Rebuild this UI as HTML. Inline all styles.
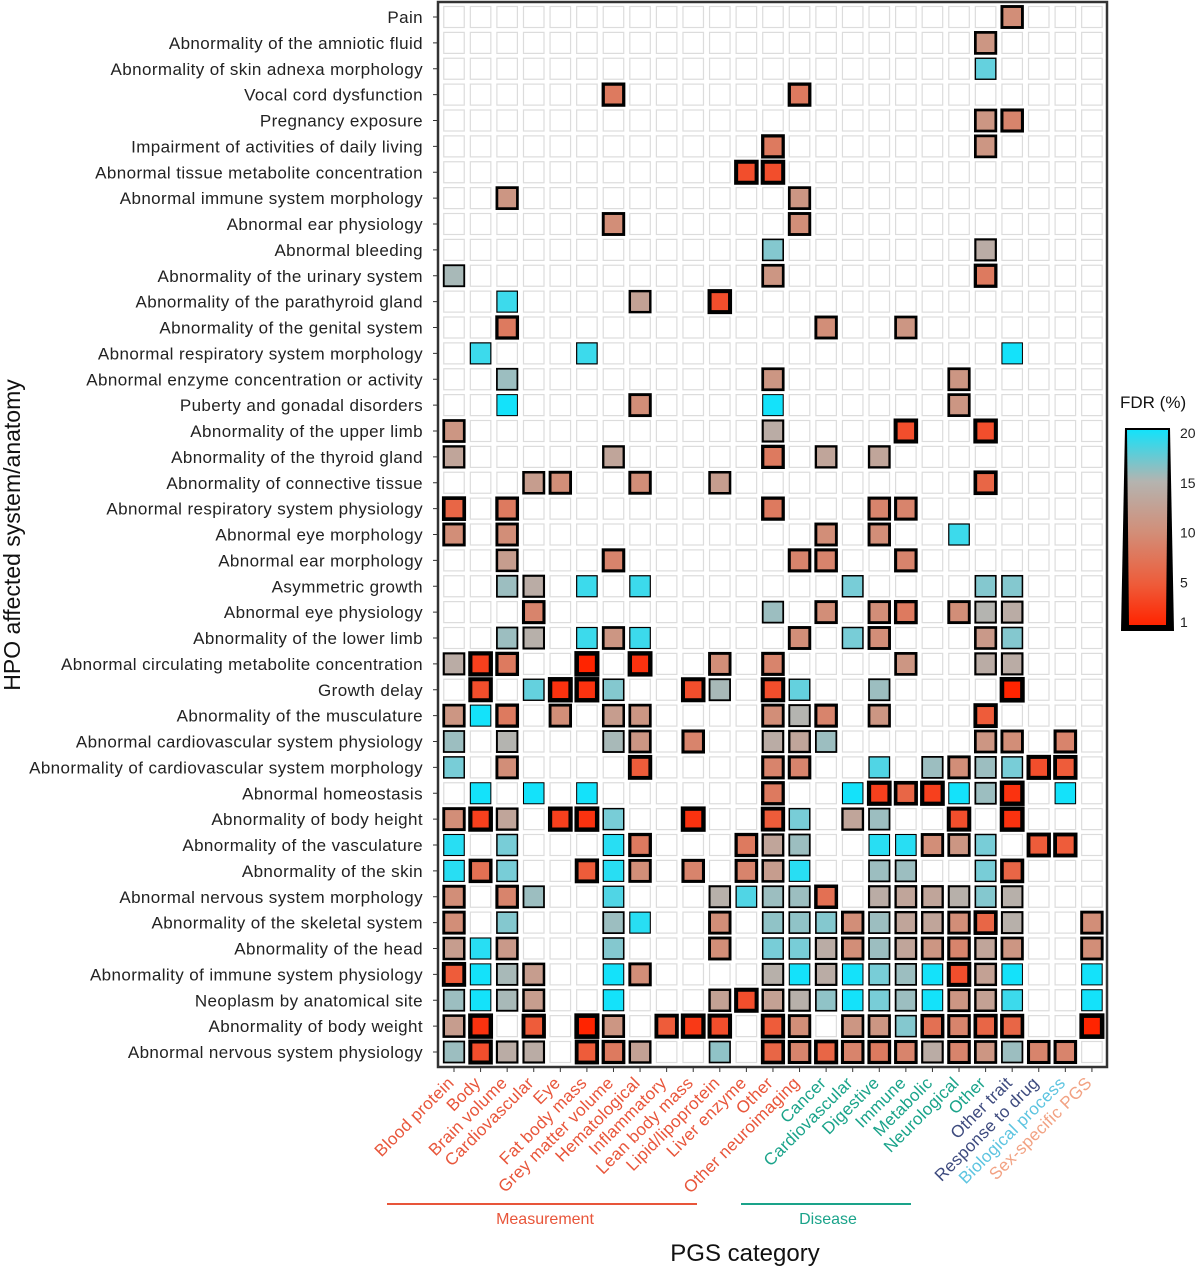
<!DOCTYPE html>
<html><head><meta charset="utf-8"><style>
html,body{margin:0;padding:0;background:#fff;}
svg{display:block;font-family:"Liberation Sans",Arial,sans-serif;}
</style></head><body>
<svg id="chart" width="1200" height="1275" viewBox="0 0 1200 1275" xmlns="http://www.w3.org/2000/svg">
<defs>
<linearGradient id="fdrGrad" x1="0" y1="0" x2="0" y2="1">
<stop offset="0" stop-color="#14e2fa"/>
<stop offset="0.263" stop-color="#b4b4b0"/>
<stop offset="0.526" stop-color="#d28e78"/>
<stop offset="0.789" stop-color="#ee5c3a"/>
<stop offset="1" stop-color="#ff2400"/>
</linearGradient>
</defs>
<g id="grid"></g>
<rect x="438" y="2" width="669" height="1065" fill="none" stroke="#333" stroke-width="2.5"/>
<g id="ylabels"></g>
<g id="xlabels"></g>
<text transform="translate(20,535) rotate(-90)" text-anchor="middle" font-size="23" fill="#111">HPO affected system/anatomy</text>
<text x="745" y="1261" text-anchor="middle" font-size="24" fill="#111">PGS category</text>
<line x1="387" y1="1204" x2="697" y2="1204" stroke="#e8553a" stroke-width="2"/>
<text x="545" y="1224" text-anchor="middle" font-size="16" fill="#e8553a">Measurement</text>
<line x1="741" y1="1204" x2="911" y2="1204" stroke="#1aa38a" stroke-width="2"/>
<text x="828" y="1224" text-anchor="middle" font-size="16" fill="#1aa38a">Disease</text>
<g>
<text x="1120" y="408" font-size="17" fill="#111">FDR (%)</text>
<polygon points="1125,428 1170,428 1174,631 1121,631" fill="#000"/>
<polygon points="1127,430 1168,430 1166,625 1129,625" fill="url(#fdrGrad)"/>
<g id="legendTicks"></g>
</g>
</svg>
<script>
const NS="http://www.w3.org/2000/svg";
const rowLabels=["Pain","Abnormality of the amniotic fluid","Abnormality of skin adnexa morphology","Vocal cord dysfunction","Pregnancy exposure","Impairment of activities of daily living","Abnormal tissue metabolite concentration","Abnormal immune system morphology","Abnormal ear physiology","Abnormal bleeding","Abnormality of the urinary system","Abnormality of the parathyroid gland","Abnormality of the genital system","Abnormal respiratory system morphology","Abnormal enzyme concentration or activity","Puberty and gonadal disorders","Abnormality of the upper limb","Abnormality of the thyroid gland","Abnormality of connective tissue","Abnormal respiratory system physiology","Abnormal eye morphology","Abnormal ear morphology","Asymmetric growth","Abnormal eye physiology","Abnormality of the lower limb","Abnormal circulating metabolite concentration","Growth delay","Abnormality of the musculature","Abnormal cardiovascular system physiology","Abnormality of cardiovascular system morphology","Abnormal homeostasis","Abnormality of body height","Abnormality of the vasculature","Abnormality of the skin","Abnormal nervous system morphology","Abnormality of the skeletal system","Abnormality of the head","Abnormality of immune system physiology","Neoplasm by anatomical site","Abnormality of body weight","Abnormal nervous system physiology"];
const colLabels=["Blood protein","Body","Brain volume","Cardiovascular","Eye","Fat body mass","Grey matter volume","Hematological","Inflammatory","Lean body mass","Lipid/lipoprotein","Liver enzyme","Other","Other neuroimaging","Cancer","Cardiovascular","Digestive","Immune","Metabolic","Neurological","Other","Other trait","Response to drug","Biological process","Sex-specific PGS"];
const colGroups=["m","m","m","m","m","m","m","m","m","m","m","m","m","m","d","d","d","d","d","d","d","t","t","b","s"];
const legendTicks=[20,15,10,5,1];
// [row, col, FDR %]
const cells=[
[0,21,10],[1,20,11],[2,20,18],[3,6,8],[3,13,8],[4,20,11],[4,21,9],[5,12,8],[5,20,11],
[6,11,4],[6,12,4],[7,2,11],[7,13,11],[8,6,10],[8,13,10],[9,12,17],[9,20,14],
[10,0,15.5],[10,12,11],[10,20,8],[11,2,19],[11,7,12.5],[11,10,4],[12,2,8],[12,14,10],[12,17,11],
[13,1,19],[13,5,19],[13,21,20],
[14,2,16],[14,12,11],[14,19,11],[15,2,20],[15,7,10],[15,12,20],[15,19,11],
[16,0,11],[16,12,14],[16,17,4],[16,20,4],
[17,0,13],[17,6,13],[17,12,8],[17,14,13],[17,16,13],
[18,3,12],[18,4,10],[18,7,10],[18,10,12],[18,20,6],
[19,0,6],[19,2,8],[19,12,8],[19,16,9],[19,17,9],
[20,0,10],[20,2,10],[20,14,10],[20,16,10],[20,19,19],
[21,2,12],[21,6,9],[21,13,9],[21,14,9],[21,17,9],
[22,2,16],[22,3,14],[22,5,19],[22,7,19],[22,15,17.5],[22,20,17],[22,21,17],
[23,3,9],[23,12,16],[23,14,10],[23,16,10],[23,17,8],[23,19,10],[23,20,15],[23,21,14],
[24,2,16],[24,3,14.5],[24,5,19],[24,6,11],[24,7,19],[24,13,10],[24,15,17.5],[24,16,10],[24,20,11.5],[24,21,17],
[25,0,14],[25,1,3],[25,2,8],[25,5,1],[25,7,2],[25,10,10],[25,12,9],[25,17,11],[25,20,14],[25,21,14],
[26,1,4],[26,3,18],[26,4,2],[26,5,2],[26,6,17],[26,9,4],[26,10,15.5],[26,12,4],[26,13,18],[26,16,16],[26,21,1],
[27,0,11],[27,1,20],[27,2,8],[27,4,10],[27,6,12],[27,7,11],[27,12,10],[27,13,15],[27,14,9],[27,16,11],[27,20,5],
[28,0,16],[28,2,15],[28,6,15.5],[28,7,11],[28,9,9],[28,12,14],[28,13,13],[28,14,16],[28,20,11],[28,21,10],[28,23,9],
[29,0,17.5],[29,2,10],[29,7,5],[29,12,9],[29,13,9],[29,16,18.5],[29,18,16],[29,19,10],[29,20,16],[29,21,17.5],[29,22,4],[29,23,5],
[30,1,20],[30,3,20],[30,5,20],[30,12,8],[30,15,20],[30,16,3],[30,17,6],[30,18,3],[30,19,20],[30,20,16],[30,21,2],[30,23,20],
[31,0,10],[31,1,3],[31,2,13],[31,4,3],[31,5,2],[31,6,17.5],[31,9,2],[31,12,5],[31,13,17.5],[31,15,13],[31,16,16],[31,19,4],[31,21,2],
[32,0,19.5],[32,2,17.5],[32,6,19.5],[32,7,8],[32,11,8],[32,12,13],[32,13,16],[32,16,19.5],[32,17,19.5],[32,18,10],[32,19,11],[32,20,17.5],[32,22,5],[32,23,5],
[33,0,19.5],[33,1,7],[33,2,17.5],[33,5,5],[33,6,19.5],[33,7,10],[33,9,9],[33,11,9],[33,12,12],[33,13,19.5],[33,16,16],[33,17,16],[33,20,17.5],[33,21,6],
[34,0,10],[34,2,9],[34,3,16],[34,6,18.5],[34,10,14.5],[34,11,18.5],[34,12,16],[34,13,16],[34,14,7],[34,16,14],[34,17,13],[34,18,13],[34,19,14.5],[34,20,17],[34,21,14.5],
[35,0,10],[35,2,17],[35,6,16],[35,7,19.5],[35,10,10],[35,12,16.5],[35,13,16.5],[35,14,17],[35,15,10],[35,16,16],[35,17,13],[35,18,13],[35,19,10],[35,20,6],[35,21,14.5],[35,24,10],
[36,0,12],[36,1,19.5],[36,2,11.5],[36,6,17],[36,10,10],[36,12,17.5],[36,13,17.5],[36,14,14],[36,15,10],[36,16,16],[36,17,13],[36,18,11],[36,19,9],[36,20,13],[36,21,11],[36,24,10],
[37,0,5],[37,1,20],[37,2,15.5],[37,3,12],[37,6,20],[37,7,10],[37,12,14.5],[37,13,20],[37,14,14],[37,15,20],[37,16,17.5],[37,17,16],[37,18,20],[37,19,4],[37,20,12.5],[37,21,20],[37,24,20],
[38,0,16],[38,1,20],[38,2,15.5],[38,3,12],[38,6,20],[38,10,12.5],[38,11,4],[38,12,12.5],[38,13,14.5],[38,14,16.5],[38,15,20],[38,16,17.5],[38,17,16],[38,18,20],[38,19,11],[38,20,12.5],[38,21,19],[38,24,20],
[39,0,12],[39,1,2],[39,3,5],[39,5,1],[39,6,11],[39,8,5],[39,9,2.5],[39,10,4],[39,12,5],[39,13,10],[39,15,11],[39,16,11],[39,17,17],[39,18,7],[39,19,9],[39,20,6],[39,21,6],[39,24,1],
[40,0,16],[40,1,4],[40,2,14],[40,3,14],[40,5,5],[40,6,8],[40,7,12.5],[40,10,16.5],[40,12,6],[40,13,9],[40,14,6],[40,15,9],[40,16,8],[40,17,9],[40,18,14],[40,19,9],[40,20,11],[40,21,16],[40,22,9],[40,23,9]
];
const xScale=c=>454+c*26.58;
const yScale=r=>17+r*25.875;
const legendY=v=>433+(20-v)*9.95;
const stops=[[1,[255,36,0]],[5,[238,92,58]],[10,[210,142,120]],[15,[180,180,176]],[17.5,[120,205,215]],[20,[20,226,250]]];
function fdrColor(v){
  for(let i=0;i<stops.length-1;i++){
    const a=stops[i],b=stops[i+1];
    if(v<=b[0]){const t=Math.max(0,(v-a[0])/(b[0]-a[0]));
      return "rgb("+a[1].map((x,k)=>Math.round(x+(b[1][k]-x)*t)).join(",")+")";}
  }
  return "rgb(20,226,250)";
}
const strokeW=v=>1+(20-v)/19*3.6;
const grid=document.getElementById("grid");
const W=20.5,H=21;
for(let r=0;r<rowLabels.length;r++){for(let c=0;c<colLabels.length;c++){
  const e=document.createElementNS(NS,"rect");
  e.setAttribute("x",xScale(c)-W/2);e.setAttribute("y",yScale(r)-H/2);
  e.setAttribute("width",W);e.setAttribute("height",H);
  e.setAttribute("fill","#fff");e.setAttribute("stroke","#dcdcdc");e.setAttribute("stroke-width","1.2");
  
  
  grid.appendChild(e);
}}
cells.forEach(d=>{
  const e=document.createElementNS(NS,"rect");
  const w=strokeW(d[2]);
  e.setAttribute("x",xScale(d[1])-W/2);e.setAttribute("y",yScale(d[0])-H/2);
  e.setAttribute("width",W);e.setAttribute("height",H);
  e.setAttribute("fill",fdrColor(d[2]));e.setAttribute("stroke","#000");e.setAttribute("stroke-width",w.toFixed(2));
  
  
  grid.appendChild(e);
});
const yl=document.getElementById("ylabels");
rowLabels.forEach((t,r)=>{
  const e=document.createElementNS(NS,"text");
  e.setAttribute("x",423);e.setAttribute("y",yScale(r)+6);
  e.setAttribute("text-anchor","end");e.setAttribute("font-size","17");e.setAttribute("letter-spacing","0.4");e.setAttribute("fill","#222");
  e.textContent=t;
  
  
  yl.appendChild(e);
  const tk=document.createElementNS(NS,"line");
  tk.setAttribute("x1",433);tk.setAttribute("x2",437);tk.setAttribute("y1",yScale(r));tk.setAttribute("y2",yScale(r));
  tk.setAttribute("stroke","#333");tk.setAttribute("stroke-width","1");
  
  
  yl.appendChild(tk);
});
const gcol={m:"#e8553a",d:"#1aa38a",t:"#3d4a7e",b:"#5cc4e0",s:"#f2a283"};
const xl=document.getElementById("xlabels");
colLabels.forEach((t,c)=>{
  const e=document.createElementNS(NS,"text");
  const x=xScale(c)+1,y=1084;
  e.setAttribute("transform","translate("+x+","+y+") rotate(-45)");
  e.setAttribute("text-anchor","end");e.setAttribute("font-size","17");e.setAttribute("letter-spacing","0.3");e.setAttribute("fill",gcol[colGroups[c]]);
  e.textContent=t;
  
  
  xl.appendChild(e);
  const tk=document.createElementNS(NS,"line");
  tk.setAttribute("x1",xScale(c));tk.setAttribute("x2",xScale(c));tk.setAttribute("y1",1068);tk.setAttribute("y2",1072);
  tk.setAttribute("stroke","#333");
  
  
  xl.appendChild(tk);
});
const lt=document.getElementById("legendTicks");
legendTicks.forEach(v=>{
  const e=document.createElementNS(NS,"text");
  e.setAttribute("x",1180);e.setAttribute("y",legendY(v)+5);
  e.setAttribute("font-size","14");e.setAttribute("fill","#222");
  e.textContent=v;
  
  
  lt.appendChild(e);
});
</script>
</body></html>
